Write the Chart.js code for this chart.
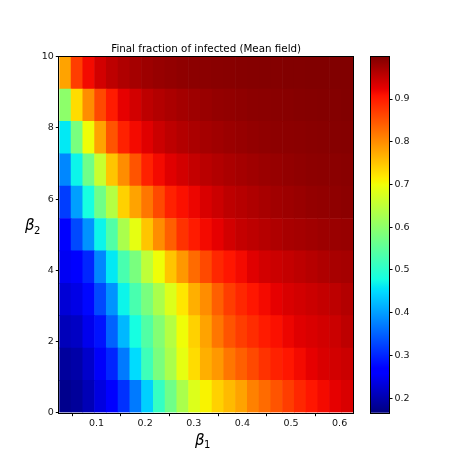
<!DOCTYPE html>
<html>
<head>
<meta charset="utf-8">
<script src="https://cdn.jsdelivr.net/npm/chart.js@4/dist/chart.umd.min.js"></script>
<style>
  body { margin: 0; background: #fff; }
  #wrap { position: relative; width: 474px; height: 472px; }
  canvas { position: absolute; left: 0; top: 0; }
</style>
</head>
<body>
<div id="wrap">
  <canvas id="heat" width="474" height="472"></canvas>
  <canvas id="cbar" width="474" height="472"></canvas>
</div>
<script>
// beta1 cell centres (x), beta2 row edges (y)
const beta1 = [0.0356, 0.0598, 0.0839, 0.1081, 0.1322, 0.1564, 0.1806, 0.2047, 0.2289, 0.2531,
               0.2772, 0.3014, 0.3255, 0.3497, 0.3739, 0.3980, 0.4222, 0.4464, 0.4705, 0.4947,
               0.5188, 0.5430, 0.5672, 0.5913, 0.6155];
const beta2Edges = [0, 0.909, 1.818, 2.727, 3.636, 4.545, 5.455, 6.364, 7.273, 8.182, 9.091, 10];

// final fraction of infected, one array per beta2 row (bottom -> top)
const row0  = [0.176,0.185,0.205,0.235,0.265,0.31,0.37,0.44,0.51,0.57,0.63,0.68,0.71,0.74,0.76,0.78,0.81,0.83,0.85,0.87,0.89,0.905,0.915,0.925,0.935];
const row1  = [0.187,0.195,0.22,0.255,0.30,0.37,0.45,0.52,0.58,0.63,0.69,0.73,0.77,0.79,0.82,0.84,0.86,0.88,0.895,0.905,0.915,0.925,0.935,0.94,0.945];
const row2  = [0.208,0.215,0.245,0.285,0.35,0.42,0.48,0.54,0.59,0.64,0.70,0.74,0.78,0.82,0.85,0.87,0.885,0.9,0.91,0.92,0.93,0.935,0.94,0.945,0.955];
const row3  = [0.228,0.24,0.275,0.33,0.39,0.47,0.53,0.58,0.63,0.68,0.72,0.77,0.80,0.84,0.87,0.89,0.905,0.915,0.925,0.935,0.94,0.945,0.95,0.955,0.962];
const row4  = [0.25,0.265,0.30,0.38,0.46,0.53,0.58,0.65,0.70,0.75,0.79,0.83,0.86,0.89,0.905,0.915,0.93,0.94,0.945,0.95,0.955,0.96,0.965,0.97,0.972];
const row5  = [0.27,0.33,0.39,0.47,0.54,0.63,0.69,0.75,0.80,0.84,0.88,0.90,0.915,0.925,0.94,0.95,0.955,0.96,0.965,0.97,0.972,0.975,0.978,0.98,0.982];
const row6  = [0.32,0.40,0.48,0.57,0.64,0.74,0.78,0.82,0.86,0.895,0.91,0.92,0.935,0.945,0.955,0.96,0.965,0.97,0.975,0.978,0.981,0.984,0.986,0.988,0.99];
const row7  = [0.38,0.47,0.57,0.66,0.75,0.80,0.85,0.895,0.915,0.93,0.94,0.95,0.957,0.963,0.968,0.972,0.976,0.979,0.982,0.985,0.987,0.989,0.99,0.991,0.992];
const row8  = [0.46,0.58,0.70,0.78,0.85,0.895,0.915,0.93,0.945,0.955,0.962,0.968,0.972,0.976,0.979,0.982,0.985,0.987,0.989,0.99,0.991,0.992,0.993,0.994,0.995];
const row9  = [0.60,0.73,0.80,0.86,0.90,0.925,0.94,0.955,0.962,0.968,0.973,0.977,0.981,0.984,0.986,0.988,0.99,0.991,0.992,0.993,0.994,0.995,0.996,0.996,0.997];
const row10 = [0.78,0.87,0.915,0.94,0.955,0.965,0.972,0.978,0.982,0.985,0.988,0.99,0.991,0.992,0.993,0.994,0.995,0.996,0.996,0.997,0.997,0.998,0.998,0.998,0.998];
const rows = [row0, row1, row2, row3, row4, row5, row6, row7, row8, row9, row10];

const xTicks = [0.1, 0.2, 0.3, 0.4, 0.5, 0.6];
const yTicks = [0, 2, 4, 6, 8, 10];
const cbarMin = 0.166;
const cbarMax = 0.999;
const cbarTicks = [0.2, 0.3, 0.4, 0.5, 0.6, 0.7, 0.8, 0.9];

// matplotlib 'jet'
const jetR = [[0, 0], [0.35, 0], [0.66, 1], [0.89, 1], [1, 0.5]];
const jetG = [[0, 0], [0.125, 0], [0.375, 1], [0.64, 1], [0.91, 0], [1, 0]];
const jetB = [[0, 0.5], [0.11, 1], [0.34, 1], [0.65, 0], [1, 0]];

function seg(pts, t) {
    for (let i = 1; i < pts.length; i++) {
        if (t <= pts[i][0]) {
            const [t0, v0] = pts[i - 1];
            const [t1, v1] = pts[i];
            return v0 + (v1 - v0) * (t - t0) / (t1 - t0);
        }
    }
    return pts[pts.length - 1][1];
}

function jet(t) {
    t = Math.min(1, Math.max(0, t));
    const r = Math.round(seg(jetR, t) * 255);
    const g = Math.round(seg(jetG, t) * 255);
    const b = Math.round(seg(jetB, t) * 255);
    return `rgb(${r},${g},${b})`;
}

function colorFor(v) {
    return jet((v - cbarMin) / (cbarMax - cbarMin));
}

const tickFont = { family: 'DejaVu Sans', size: 9.5 };
const tickColor = '#111';

const datasets = rows.map((vals, r) => ({
    data: beta1.map((x) => ({ x: x, y: [beta2Edges[r], beta2Edges[r + 1]] })),
    backgroundColor: vals.map(colorFor),
    borderWidth: 0,
    barPercentage: 1,
    categoryPercentage: 1,
    grouped: false,
}));

// frame around the plot area + beta labels
const framePlugin = {
    id: 'frame',
    afterDatasetsDraw(chart) {
        const { ctx, chartArea: a } = chart;
        ctx.save();
        ctx.strokeStyle = '#000';
        ctx.lineWidth = 1;
        ctx.strokeRect(Math.round(a.left) - 0.5, Math.round(a.top) - 0.5,
            Math.round(a.right - a.left) + 1, Math.round(a.bottom - a.top) + 1);
        ctx.restore();
    },
    afterDraw(chart) {
        const { ctx } = chart;
        ctx.save();
        ctx.fillStyle = '#000';
        ctx.textBaseline = 'alphabetic';
        ctx.textAlign = 'left';
        // x label
        ctx.font = 'italic 15px "DejaVu Sans"';
        ctx.fillText('β', 195, 444.5);
        ctx.font = '10px "DejaVu Sans"';
        ctx.fillText('1', 204, 448);
        // y label
        ctx.font = 'italic 15px "DejaVu Sans"';
        ctx.fillText('β', 25, 230);
        ctx.font = '10px "DejaVu Sans"';
        ctx.fillText('2', 34, 233.5);
        ctx.restore();
    }
};

new Chart(document.getElementById('heat'), {
    type: 'bar',
    data: { datasets: datasets },
    options: {
        responsive: false,
        animation: false,
        devicePixelRatio: 1,
        layout: { padding: { top: 0, right: 121, bottom: 0, left: 0 } },
        plugins: {
            legend: { display: false },
            tooltip: { enabled: false },
            title: {
                display: true,
                text: 'Final fraction of infected (Mean field)',
                fullSize: false,
                color: '#000',
                font: { family: 'DejaVu Sans', size: 10.3, weight: 'normal' },
                padding: { top: 42.8, bottom: 1.5 },
            },
        },
        scales: {
            x: {
                type: 'linear',
                min: 0.0235,
                max: 0.6275,
                offset: false,
                afterFit: (s) => { s.height = 59.3; },
                afterBuildTicks: (s) => { s.ticks = xTicks.map((v) => ({ value: v })); },
                ticks: {
                    font: tickFont, color: tickColor, padding: 1.5,
                    autoSkip: false, maxRotation: 0,
                    callback: (v) => v.toFixed(1),
                },
                grid: { drawOnChartArea: false, drawTicks: true, tickLength: 3.5, color: '#000' },
                border: { display: false },
            },
            y: {
                type: 'linear',
                min: 0,
                max: 10,
                afterFit: (s) => { s.width = 59.3; },
                afterBuildTicks: (s) => { s.ticks = yTicks.map((v) => ({ value: v })); },
                ticks: { font: tickFont, color: tickColor, padding: 2, autoSkip: false },
                grid: { drawOnChartArea: false, drawTicks: true, tickLength: 3.5, color: '#000' },
                border: { display: false },
            },
        },
    },
    plugins: [framePlugin],
});

// colour bar
const cbarOutline = {
    id: 'cbarOutline',
    afterDatasetsDraw(chart) {
        const { ctx, chartArea: a } = chart;
        ctx.save();
        ctx.strokeStyle = '#000';
        ctx.lineWidth = 1;
        ctx.strokeRect(Math.round(a.left) - 0.5, Math.round(a.top) - 0.5,
            Math.round(a.right - a.left) + 1, Math.round(a.bottom - a.top) + 1);
        ctx.restore();
    }
};

const jetStops = [0, 0.11, 0.125, 0.34, 0.35, 0.375, 0.64, 0.65, 0.66, 0.89, 0.91, 1];

new Chart(document.getElementById('cbar'), {
    type: 'bar',
    data: {
        labels: ['cb'],
        datasets: [{
            data: [[cbarMin, cbarMax]],
            backgroundColor: (c) => {
                const chart = c.chart;
                if (!chart.chartArea) return '#000';
                const ys = chart.scales.y;
                const g = chart.ctx.createLinearGradient(0, ys.getPixelForValue(cbarMin), 0, ys.getPixelForValue(cbarMax));
                jetStops.forEach((t) => g.addColorStop(t, jet(t)));
                return g;
            },
            borderWidth: 0,
            barPercentage: 1,
            categoryPercentage: 1,
        }],
    },
    options: {
        responsive: false,
        animation: false,
        devicePixelRatio: 1,
        layout: { padding: { top: 56.7, right: 0, bottom: 59.3, left: 371 } },
        plugins: { legend: { display: false }, tooltip: { enabled: false } },
        scales: {
            x: { display: false },
            y: {
                position: 'right',
                min: cbarMin,
                max: cbarMax,
                afterFit: (s) => { s.width = 85; },
                afterBuildTicks: (s) => { s.ticks = cbarTicks.map((v) => ({ value: v })); },
                ticks: { font: tickFont, color: tickColor, padding: 2, autoSkip: false, callback: (v) => v.toFixed(1) },
                grid: { drawOnChartArea: false, drawTicks: true, tickLength: 3.5, color: '#000' },
                border: { display: false },
            },
        },
    },
    plugins: [cbarOutline],
});
</script>
</body>
</html>
